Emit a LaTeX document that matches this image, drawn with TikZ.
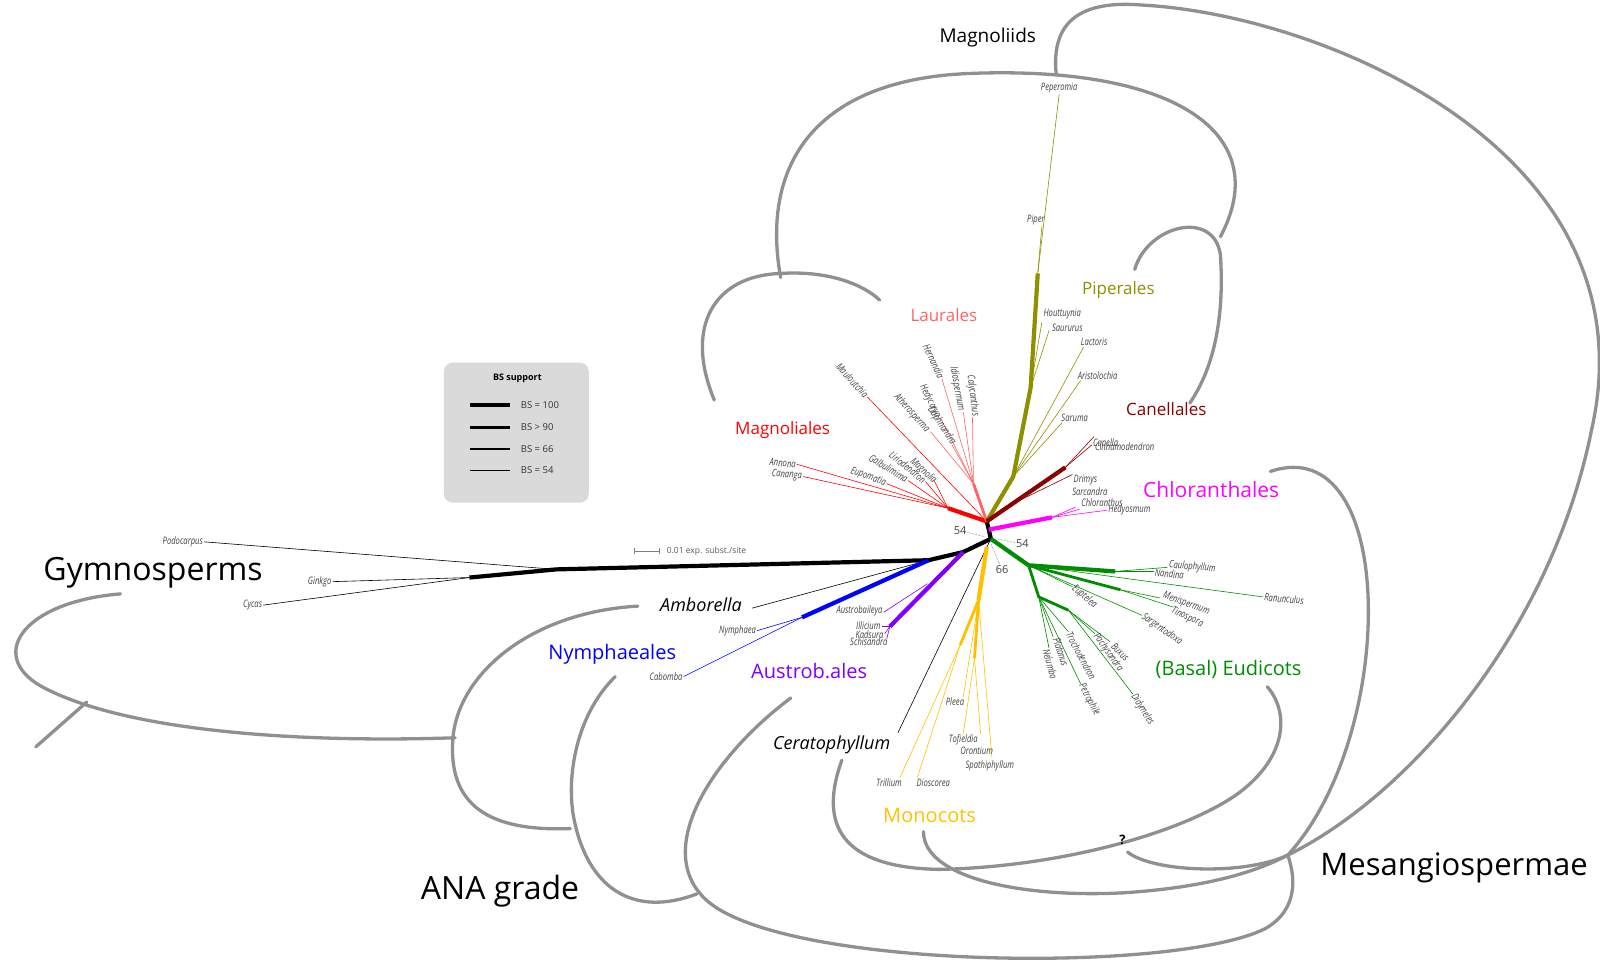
\documentclass[tikz,border=0pt]{standalone}
\usepackage{fontspec}
\setmainfont{Open Sans}
\newfontfamily\tx{Open Sans}[FakeStretch=0.74]
\begin{document}
\definecolor{arc}{HTML}{909090}
\definecolor{olv}{HTML}{8F8F00}
\definecolor{mar}{HTML}{8B0000}
\definecolor{lau}{HTML}{FF6464}
\definecolor{grn}{HTML}{008C00}
\definecolor{yel}{HTML}{FFC000}
\definecolor{pur}{HTML}{8000FF}
\definecolor{mgt}{HTML}{FF00FF}
\definecolor{leg}{HTML}{DADADA}
\begin{tikzpicture}[x=1.02pt,y=-1.02pt,
  garc/.style={draw=arc,line width=3.3pt,line cap=round},
  th/.style={line width=4.2pt},
  md/.style={line width=2.8pt},
  tn/.style={line width=0.6pt},
  lf/.style={font=\tx\itshape\fontsize{10.3}{11}\selectfont,text=black!75,inner sep=1pt},
  grp/.style={font=\fontsize{17}{19}\selectfont,inner sep=0pt},
  big/.style={font=\fontsize{32}{34}\selectfont,inner sep=0pt},
  bs/.style={font=\fontsize{11}{12}\selectfont,text=black!75,inner sep=1pt}]
\useasboundingbox (0,0) rectangle (1568,945);

% ---------- grey clade arcs ----------
\draw[garc] (118,582) .. controls (20,590) and (-15,645) .. (45,675) .. controls (130,718) and (300,728) .. (446,723);
\coordinate (gt) at (85,688); \coordinate (ge) at (35,732);
\draw[garc] (gt) -- (ge);
\draw[garc] (625,594) .. controls (520,600) and (450,660) .. (444,722) .. controls (438,790) and (480,815) .. (559,812);
\draw[garc] (603,663) .. controls (565,700) and (555,760) .. (562,800) .. controls (575,870) and (620,900) .. (683,876);
\draw[garc] (775,684) .. controls (700,740) and (640,830) .. (690,880) .. controls (760,950) and (1150,955) .. (1240,910) .. controls (1275,890) and (1268,855) .. (1262,838);
\draw[garc] (825,745) .. controls (805,800) and (815,850) .. (920,852) .. controls (1030,850) and (1150,820) .. (1210,780) .. controls (1260,745) and (1265,700) .. (1242,673);
\draw[garc] (905,815) .. controls (905,860) and (1000,880) .. (1100,875) .. controls (1180,870) and (1230,855) .. (1262,838);
\draw[garc] (1105,835) .. controls (1130,855) and (1220,858) .. (1262,838);
\draw[garc] (1245,462) .. controls (1370,420) and (1370,720) .. (1262,838);
\draw[garc] (1035,72) .. controls (1030,20) and (1060,0) .. (1120,5) .. controls (1300,15) and (1620,150) .. (1560,420) .. controls (1520,620) and (1380,780) .. (1262,838);
\draw[garc] (765,272) .. controls (745,160) and (800,78) .. (950,72) .. controls (1150,64) and (1250,130) .. (1196,232);
\draw[garc] (1112,264) .. controls (1125,220) and (1190,205) .. (1196,250) .. controls (1200,310) and (1190,360) .. (1166,395);
\draw[garc] (700,392) .. controls (670,320) and (700,270) .. (765,268) .. controls (810,265) and (845,278) .. (862,294);

% ---------- legend ----------
\node[draw=none,fill=leg,rounded corners=9pt,minimum width=145pt,minimum height=140pt,inner sep=0pt] (lg) at (506,424) {};
\node[font=\bfseries\fontsize{9}{10}\selectfont] (lgt) at (507,371) {BS support};
\foreach \y/\w/\t in {397/4.2pt/{BS = 100},419/3pt/{BS > 90},440/1.9pt/{BS = 66},461/0.6pt/{BS = 54}}{
  \coordinate (la\y) at (461,\y); \coordinate (lb\y) at (500,\y);
  \draw[line width=\w] (la\y) -- (lb\y);
  \node[anchor=west,font=\fontsize{9.5}{10}\selectfont,text=black!80] at (507,\y) {\t};}

% scale bar
\coordinate (sb1) at (622,540); \coordinate (sb2) at (646,540);
\draw[gray,line width=0.7pt] (sb1) -- (sb2);
\draw[gray,line width=0.7pt] ([yshift=-3pt]sb1) -- ([yshift=3pt]sb1) ([yshift=-3pt]sb2) -- ([yshift=3pt]sb2);
\node[anchor=west,font=\fontsize{8.5}{9}\selectfont,text=black!65] at (650,540) {0.01 exp. subst./site};

% ---------- tree: backbone ----------
\coordinate (A) at (967,511);
\coordinate (P) at (969,519);
\coordinate (B) at (971,528);
\coordinate (J1) at (944,541);
\coordinate (J2) at (910,549);
\coordinate (J3) at (545,558);
\coordinate (J4) at (460,566);
\draw[th,line join=round] (A) -- (P) -- (B) -- (J1) -- (J2) -- (J3) -- (J4);
\coordinate (podo) at (200,531); \coordinate (ging) at (326,570); \coordinate (cyca) at (258,593);
\draw[tn] (J3) -- (podo); \draw[tn] (J4) -- (ging); \draw[tn] (J4) -- (cyca);
\node[lf,anchor=east] at (podo) {Podocarpus};
\node[lf,anchor=east] at (ging) {Ginkgo};
\node[lf,anchor=east] at (cyca) {Cycas};

% Amborella
\coordinate (amb) at (737,596);
\draw[tn] (J2) -- (amb);
% Nymphaeales
\coordinate (N1) at (786,605); \coordinate (nym) at (742,618); \coordinate (cab) at (670,663);
\draw[blue,th] (J2) -- (N1);
\draw[blue,tn] (N1) -- (nym); \draw[blue,tn] (N1) -- (cab);
\node[lf,anchor=east] at (nym) {Nymphaea};
\node[lf,anchor=east] at (cab) {Cabomba};
% Austrobaileyales
\coordinate (U1) at (872,614); \coordinate (U0) at (909,572);
\coordinate (aus) at (866,600); \coordinate (ill) at (864,614); \coordinate (kad) at (867,621); \coordinate (sch) at (869,626);
\draw[pur,th] (J1) -- (U1);
\draw[pur,tn] (U0) -- (aus); \draw[pur,tn] (U1) -- (ill); \draw[pur,tn] (U1) -- (kad); \draw[pur,tn] (U1) -- (sch);
\node[lf,anchor=east] at ([yshift=1pt]aus) {Austrobaileya};
\node[lf,anchor=east] at ([yshift=1pt]ill) {Illicium};
\node[lf,anchor=east] at ([yshift=-1pt]kad) {Kadsura};
\node[lf,anchor=north east] at ([xshift=2pt,yshift=2pt]sch) {Schisandra};
% Ceratophyllum
\coordinate (cer) at (880,718);
\draw[tn] (B) -- (cer);

% Monocots
\coordinate (Y0) at (967,536); \coordinate (Y1) at (959,588); \coordinate (Y2) at (941,632); \coordinate (Y3) at (955,645);
\draw[yel,th] (Y0) -- (Y1); \draw[yel,md] (Y1) -- (Y2); \draw[yel,md] (Y1) -- (Y3);
\coordinate (tri) at (882,762); \coordinate (dio) at (899,762); \coordinate (ple) at (944,683);
\coordinate (tof) at (944,719); \coordinate (oro) at (961,719); \coordinate (spa) at (972,742);
\draw[yel,tn] (Y2) -- (tri); \draw[yel,tn] (Y2) -- (dio); \draw[yel,tn] (Y1) -- (ple);
\draw[yel,tn] (Y3) -- (tof); \draw[yel,tn] (Y3) -- (oro); \draw[yel,tn] (Y1) -- (spa);
\node[lf,anchor=north east] at ([xshift=3pt]tri) {Trillium};
\node[lf,anchor=north west] at ([xshift=-2pt]dio) {Dioscorea};
\node[lf,anchor=north east] at ([xshift=2pt]ple) {Pleea};
\node[lf,anchor=north] at (tof) {Tofieldia};
\node[lf,anchor=north] at ([yshift=-12pt,xshift=-4pt]oro) {Orontium};
\node[lf,anchor=north] at ([xshift=-2pt,yshift=-2pt]spa) {Spathiphyllum};

% Eudicots
\coordinate (G1) at (1008,554); \coordinate (G2) at (1093,560); \coordinate (G3) at (1098,578);
\coordinate (G4) at (1018,585); \coordinate (G5) at (1047,598);
\draw[grn,th] (B) -- (G1); \draw[grn,th] (G1) -- (G2); \draw[grn,md] (G1) -- (G3);
\draw[grn,md] (G1) -- (G4) -- (G5);
\coordinate (cau) at (1144,556); \coordinate (nan) at (1131,560); \coordinate (ran) at (1238,585);
\coordinate (men) at (1137,586); \coordinate (tin) at (1150,595); \coordinate (sar) at (1119,603); \coordinate (eup) at (1051,575);
\coordinate (bux) at (1088,629); \coordinate (pac) at (1073,621); \coordinate (did) at (1110,680);
\coordinate (tro) at (1047,619); \coordinate (pet) at (1059,670); \coordinate (pla) at (1032,624); \coordinate (nel) at (1028,635);
\foreach \s/\e in {G2/cau,G2/nan,G1/ran,G3/men,G3/tin,G1/sar,G1/eup,G5/bux,G5/pac,G5/did,G4/tro,G4/pet,G4/pla,G4/nel}
  \draw[grn,tn] (\s) -- (\e);
\node[lf,anchor=south west,rotate=-5] at ([yshift=-4pt]cau) {Caulophyllum};
\node[lf,anchor=north west,rotate=-5] at ([yshift=4pt]nan) {Nandina};
\node[lf,anchor=west,rotate=-5] at (ran) {Ranunculus};
\node[lf,anchor=south west,rotate=-20] at ([yshift=-3pt]men) {Menispermum};
\node[lf,anchor=north west,rotate=-25] at ([yshift=3pt]tin) {Tinospora};
\node[lf,anchor=west,rotate=-35] at (sar) {Sargentodoxa};
\node[lf,anchor=west,rotate=-40] at (eup) {Euptelea};
\node[lf,anchor=west,rotate=-45] at ([xshift=2pt,yshift=-2pt]bux) {Buxus};
\node[lf,anchor=west,rotate=-55] at (pac) {Pachysandra};
\node[lf,anchor=west,rotate=-58] at (did) {Didymeles};
\node[lf,anchor=west,rotate=-62] at (tro) {Trochodendron};
\node[lf,anchor=west,rotate=-62] at (pet) {Petrophile};
\node[lf,anchor=west,rotate=-72] at ([xshift=3pt]pla) {Platanus};
\node[lf,anchor=west,rotate=-75] at ([xshift=-3pt]nel) {Nelumbo};

% Magnoliales
\coordinate (R1) at (929,498);
\draw[red,th] (A) -- (R1);
\coordinate (ann) at (781,455); \coordinate (can) at (787,467); \coordinate (eupo) at (869,474);
\coordinate (gal) at (890,471); \coordinate (lir) at (907,472); \coordinate (mag) at (915,470); \coordinate (mau) at (850,389);
\foreach \e in {ann,can,eupo,gal,lir,mag} \draw[red,tn] (R1) -- (\e);
\draw[red,tn] (A) -- (mau);
\node[lf,anchor=east,rotate=-5] at (ann) {Annona};
\node[lf,anchor=east,rotate=-5] at (can) {Cananga};
\node[lf,anchor=east,rotate=-20] at (eupo) {Eupomatia};
\node[lf,anchor=east,rotate=-32] at (gal) {Galbulimima};
\node[lf,anchor=east,rotate=-39] at (lir) {Liriodendron};
\node[lf,anchor=east,rotate=-43] at ([yshift=-3pt,xshift=2pt]mag) {Magnolia};
\node[lf,anchor=east,rotate=-48] at (mau) {Mauloutchia};

% Laurales
\coordinate (L1) at (954,474);
\draw[lau,md] (A) -- (L1);
\coordinate (her) at (923,371); \coordinate (ido) at (944,404); \coordinate (caly) at (953,409);
\coordinate (hed) at (922,410); \coordinate (dap) at (933,436); \coordinate (ath) at (912,423);
\foreach \e in {her,ido,caly,hed,dap,ath} \draw[lau,tn] (L1) -- (\e);
\node[lf,anchor=east,rotate=-65] at (her) {Hernandia};
\node[lf,anchor=east,rotate=-80] at ([xshift=-2pt]ido) {Idiospermum};
\node[lf,anchor=east,rotate=-83] at ([xshift=3pt]caly) {Calycanthus};
\node[lf,anchor=east,rotate=-63] at ([xshift=-2pt]hed) {Hedycarya};
\node[lf,anchor=east,rotate=-57] at ([xshift=2pt]dap) {Daphnandra};
\node[lf,anchor=east,rotate=-48] at ([xshift=-2pt]ath) {Atherosperma};

% Piperales
\coordinate (O1) at (993,467); \coordinate (O2) at (1010,380); \coordinate (O3) at (1017,268);
\draw[olv,th] (A) -- (O1) -- (O2) -- (O3);
\coordinate (pep) at (1038,92); \coordinate (pip) at (1021,222);
\coordinate (hou) at (1021,316); \coordinate (sau) at (1028,324); \coordinate (lac) at (1062,340);
\coordinate (ari) at (1059,373); \coordinate (saru) at (1041,414);
\draw[olv,tn] (O3) -- (pep); \draw[olv,tn] (O3) -- (pip);
\draw[olv,tn] (O2) -- (hou); \draw[olv,tn] (O2) -- (sau);
\foreach \e in {lac,ari,saru} \draw[olv,tn] (O1) -- (\e);
\node[lf,anchor=south] at (pep) {Peperomia};
\node[lf,anchor=south east] at ([xshift=4pt]pip) {Piper};
\node[lf] at (1041,308) {Houttuynia};
\node[lf] at (1046,321) {Saururus};
\node[lf,anchor=south west] at ([xshift=-4pt]lac) {Lactoris};
\node[lf,anchor=south west] at ([xshift=-4pt]ari) {Aristolochia};
\node[lf,anchor=south west] at ([xshift=-2pt]saru) {Saruma};

% Canellales
\coordinate (K1) at (1044,458); \coordinate (K0) at (1000,490);
\draw[mar,th] (A) -- (K1);
\coordinate (cin) at (1072,428); \coordinate (cane) at (1070,436); \coordinate (dri) at (1051,465);
\draw[mar,tn] (K1) -- (cin); \draw[mar,tn] (K1) -- (cane); \draw[mar,tn] (K0) -- (dri);
\node[lf,anchor=west] at ([yshift=-10pt]cin) {Cinnamodendron};
\node[lf,anchor=west] at ([yshift=2pt]cane) {Canella};
\node[lf,anchor=west] at ([yshift=-5pt]dri) {Drimys};

% Chloranthales
\coordinate (C1) at (1031,507);
\draw[mgt,th] (P) -- (C1);
\coordinate (sarc) at (1054,497); \coordinate (chl) at (1058,499); \coordinate (hedy) at (1085,500);
\draw[mgt,tn] (C1) -- (sarc); \draw[mgt,tn] (C1) -- (chl); \draw[mgt,tn] (C1) -- (hedy);
\node[lf] at (1068,482) {Sarcandra};
\node[lf] at (1080,493) {Chloranthus};
\node[lf,anchor=west] at ([yshift=0pt]hedy) {Hedyosmum};

% bootstrap labels
\coordinate (b1) at (965,526); \coordinate (b2) at (976,528); \coordinate (b3) at (971,533);
\node[bs] (n1) at (941,520) {54};
\node[bs] (n2) at (1002,533) {54};
\node[bs] (n3) at (982,558) {66};
\draw[densely dotted,black!70,line width=0.5pt] (n1) -- (b1);
\draw[densely dotted,black!70,line width=0.5pt] (n2) -- (b2);
\draw[densely dotted,black!70,line width=0.5pt] (n3) -- (b3);

% ---------- group labels ----------
\node[grp,font=\fontsize{19}{21}\selectfont] at (968,37) {Magnoliids};
\node[grp,text=lau] at (925,309) {Laurales};
\node[grp,text=olv] at (1096,284) {Piperales};
\node[grp,text=red] at (767,421) {Magnoliales};
\node[grp,text=mar] at (1143,401) {Canellales};
\node[grp,text=mgt,font=\fontsize{21}{23}\selectfont] at (1187,480) {Chloranthales};
\node[big] at (150,561) {Gymnosperms};
\node[grp,font=\itshape\fontsize{18}{20}\selectfont] at (687,593) {Amborella};
\node[grp,text=blue,font=\fontsize{20}{22}\selectfont] at (600,641) {Nymphaeales};
\node[grp,text=pur,font=\fontsize{20}{22}\selectfont] at (793,658) {Austrob.ales};
\node[grp,font=\itshape\fontsize{18}{20}\selectfont] at (815,730) {Ceratophyllum};
\node[grp,text=yel,font=\fontsize{20}{22}\selectfont] at (911,799) {Monocots};
\node[grp,text=grn,font=\fontsize{20}{22}\selectfont] at (1204,656) {(Basal) Eudicots};
\node[big] at (490,873) {ANA grade};
\node[big,font=\fontsize{31}{33}\selectfont] at (1425,850) {Mesangiospermae};
\node[grp,font=\bfseries\fontsize{13}{14}\selectfont] at (1100,823) {?};
\end{tikzpicture}
\end{document}
